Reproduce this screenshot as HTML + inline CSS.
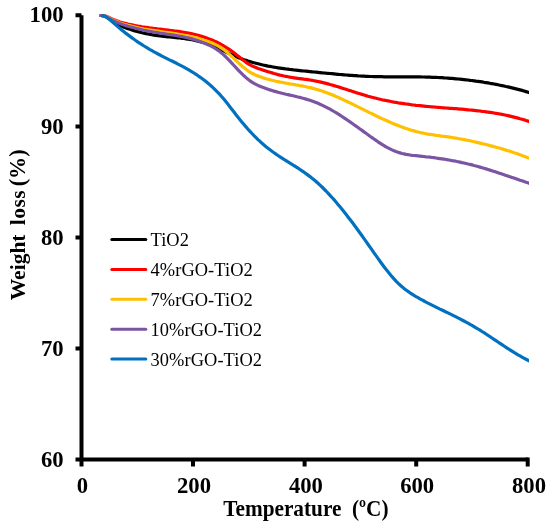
<!DOCTYPE html>
<html><head><meta charset="utf-8"><title>TGA weight loss</title>
<style>
html,body{margin:0;padding:0;background:#fff;}
body{width:550px;height:528px;overflow:hidden;}
svg{display:block;}
text{font-family:"Liberation Serif",serif;fill:#000;}
.b{font-weight:bold;font-size:21.3px;}
.t{font-weight:bold;font-size:22.7px;}
.lg{font-size:18.4px;letter-spacing:0.08px;}
</style></head><body>
<svg width="550" height="528" viewBox="0 0 550 528">
<rect width="550" height="528" fill="#fff"/>
<defs><clipPath id="c"><rect x="90" y="5" width="438.9" height="450"/></clipPath></defs>
<g clip-path="url(#c)" fill="none" stroke-width="3.2" stroke-linecap="round" stroke-linejoin="round">
<path d="M101.0,15.5 L101.5,15.5 L102.0,15.6 L102.5,15.6 L103.0,15.7 L103.5,15.8 L104.0,15.9 L104.5,16.0 L105.0,16.2 L105.5,16.4 L106.0,16.7 L106.5,17.0 L107.0,17.2 L107.5,17.5 L108.0,17.9 L108.5,18.2 L109.0,18.6 L109.5,18.9 L110.0,19.3 L110.5,19.6 L111.0,20.0 L111.5,20.3 L112.0,20.7 L114.0,22.0 L116.0,23.3 L118.0,24.4 L120.0,25.4 L122.0,26.3 L124.0,27.2 L126.0,27.9 L128.0,28.7 L130.0,29.3 L132.0,30.0 L134.0,30.6 L136.0,31.2 L138.0,31.7 L140.0,32.2 L142.0,32.7 L144.0,33.2 L146.0,33.6 L148.0,34.0 L150.0,34.4 L152.0,34.7 L154.0,35.1 L156.0,35.4 L158.0,35.6 L160.0,35.9 L162.0,36.1 L164.0,36.4 L166.0,36.6 L168.0,36.8 L170.0,37.0 L172.0,37.2 L174.0,37.4 L176.0,37.6 L178.0,37.8 L180.0,38.0 L182.0,38.3 L184.0,38.5 L186.0,38.8 L188.0,39.1 L190.0,39.4 L192.0,39.8 L194.0,40.2 L196.0,40.6 L198.0,41.1 L200.0,41.6 L202.0,42.1 L204.0,42.7 L206.0,43.4 L208.0,44.1 L210.0,44.8 L212.0,45.6 L214.0,46.5 L216.0,47.3 L218.0,48.3 L220.0,49.2 L222.0,50.1 L224.0,51.1 L226.0,52.0 L228.0,53.0 L230.0,53.9 L232.0,54.8 L234.0,55.7 L236.0,56.6 L238.0,57.4 L240.0,58.2 L242.0,58.9 L244.0,59.7 L246.0,60.3 L248.0,61.0 L250.0,61.6 L252.0,62.2 L254.0,62.8 L256.0,63.3 L258.0,63.8 L260.0,64.3 L262.0,64.8 L264.0,65.2 L266.0,65.6 L268.0,66.1 L270.0,66.4 L272.0,66.8 L274.0,67.2 L276.0,67.5 L278.0,67.8 L280.0,68.1 L282.0,68.4 L284.0,68.7 L286.0,69.0 L288.0,69.2 L290.0,69.5 L292.0,69.7 L294.0,70.0 L296.0,70.2 L298.0,70.4 L300.0,70.6 L302.0,70.8 L304.0,71.0 L306.0,71.2 L308.0,71.4 L310.0,71.6 L312.0,71.8 L314.0,72.0 L316.0,72.2 L318.0,72.4 L320.0,72.6 L322.0,72.8 L324.0,73.0 L326.0,73.2 L328.0,73.3 L330.0,73.5 L332.0,73.7 L334.0,73.9 L336.0,74.1 L338.0,74.3 L340.0,74.5 L342.0,74.6 L344.0,74.8 L346.0,75.0 L348.0,75.1 L350.0,75.3 L352.0,75.4 L354.0,75.6 L356.0,75.7 L358.0,75.9 L360.0,76.0 L362.0,76.1 L364.0,76.2 L366.0,76.3 L368.0,76.4 L370.0,76.5 L372.0,76.5 L374.0,76.6 L376.0,76.6 L378.0,76.7 L380.0,76.7 L382.0,76.7 L384.0,76.8 L386.0,76.8 L388.0,76.8 L390.0,76.8 L392.0,76.8 L394.0,76.8 L396.0,76.8 L398.0,76.8 L400.0,76.8 L402.0,76.8 L404.0,76.8 L406.0,76.8 L408.0,76.8 L410.0,76.8 L412.0,76.8 L414.0,76.9 L416.0,76.9 L418.0,76.9 L420.0,76.9 L422.0,77.0 L424.0,77.0 L426.0,77.1 L428.0,77.1 L430.0,77.2 L432.0,77.3 L434.0,77.3 L436.0,77.4 L438.0,77.5 L440.0,77.6 L442.0,77.7 L444.0,77.9 L446.0,78.0 L448.0,78.1 L450.0,78.3 L452.0,78.4 L454.0,78.6 L456.0,78.8 L458.0,79.0 L460.0,79.2 L462.0,79.4 L464.0,79.6 L466.0,79.8 L468.0,80.0 L470.0,80.3 L472.0,80.5 L474.0,80.8 L476.0,81.1 L478.0,81.3 L480.0,81.6 L482.0,81.9 L484.0,82.3 L486.0,82.6 L488.0,82.9 L490.0,83.3 L492.0,83.6 L494.0,84.0 L496.0,84.4 L498.0,84.8 L500.0,85.2 L502.0,85.6 L504.0,86.0 L506.0,86.5 L508.0,86.9 L510.0,87.4 L512.0,87.9 L514.0,88.4 L516.0,88.9 L518.0,89.4 L520.0,89.9 L522.0,90.4 L524.0,91.0 L526.0,91.6 L528.0,92.2 L529.0,92.5 L533.0,93.6" stroke="#000000"/>
<path d="M100.5,15.5 L101.0,15.5 L101.5,15.5 L102.0,15.6 L102.5,15.6 L103.0,15.7 L103.5,15.7 L104.0,15.8 L104.5,15.9 L105.0,16.0 L105.5,16.1 L106.0,16.3 L106.5,16.5 L107.0,16.6 L107.5,16.8 L108.0,17.0 L108.5,17.2 L109.0,17.5 L109.5,17.7 L110.0,17.9 L110.5,18.2 L111.0,18.4 L111.5,18.7 L112.0,18.9 L114.0,19.8 L116.0,20.6 L118.0,21.3 L120.0,22.0 L122.0,22.6 L124.0,23.1 L126.0,23.6 L128.0,24.1 L130.0,24.5 L132.0,24.9 L134.0,25.3 L136.0,25.7 L138.0,26.1 L140.0,26.4 L142.0,26.8 L144.0,27.1 L146.0,27.4 L148.0,27.7 L150.0,28.0 L152.0,28.2 L154.0,28.5 L156.0,28.7 L158.0,29.0 L160.0,29.2 L162.0,29.4 L164.0,29.7 L166.0,29.9 L168.0,30.1 L170.0,30.4 L172.0,30.6 L174.0,30.9 L176.0,31.1 L178.0,31.4 L180.0,31.7 L182.0,32.0 L184.0,32.3 L186.0,32.7 L188.0,33.0 L190.0,33.4 L192.0,33.8 L194.0,34.3 L196.0,34.8 L198.0,35.3 L200.0,35.9 L202.0,36.4 L204.0,37.1 L206.0,37.7 L208.0,38.5 L210.0,39.2 L212.0,40.0 L214.0,40.9 L216.0,41.8 L218.0,42.8 L220.0,43.8 L222.0,44.9 L224.0,46.1 L226.0,47.3 L228.0,48.6 L230.0,49.9 L232.0,51.3 L234.0,52.8 L236.0,54.4 L238.0,56.0 L240.0,57.6 L242.0,59.3 L244.0,60.8 L246.0,62.3 L248.0,63.6 L250.0,64.8 L252.0,65.9 L254.0,66.8 L256.0,67.6 L258.0,68.4 L260.0,69.1 L262.0,69.8 L264.0,70.4 L266.0,71.1 L268.0,71.7 L270.0,72.3 L272.0,72.9 L274.0,73.5 L276.0,74.0 L278.0,74.6 L280.0,75.1 L282.0,75.5 L284.0,76.0 L286.0,76.4 L288.0,76.8 L290.0,77.2 L292.0,77.5 L294.0,77.8 L296.0,78.1 L298.0,78.4 L300.0,78.6 L302.0,78.9 L304.0,79.2 L306.0,79.4 L308.0,79.7 L310.0,80.0 L312.0,80.3 L314.0,80.7 L316.0,81.1 L318.0,81.5 L320.0,81.9 L322.0,82.4 L324.0,82.9 L326.0,83.4 L328.0,83.9 L330.0,84.5 L332.0,85.0 L334.0,85.6 L336.0,86.2 L338.0,86.8 L340.0,87.4 L342.0,88.1 L344.0,88.7 L346.0,89.3 L348.0,90.0 L350.0,90.6 L352.0,91.3 L354.0,91.9 L356.0,92.6 L358.0,93.2 L360.0,93.8 L362.0,94.4 L364.0,95.0 L366.0,95.6 L368.0,96.2 L370.0,96.7 L372.0,97.3 L374.0,97.8 L376.0,98.3 L378.0,98.8 L380.0,99.2 L382.0,99.7 L384.0,100.1 L386.0,100.5 L388.0,100.9 L390.0,101.3 L392.0,101.7 L394.0,102.1 L396.0,102.4 L398.0,102.8 L400.0,103.1 L402.0,103.4 L404.0,103.7 L406.0,104.0 L408.0,104.2 L410.0,104.5 L412.0,104.8 L414.0,105.0 L416.0,105.3 L418.0,105.5 L420.0,105.7 L422.0,105.9 L424.0,106.1 L426.0,106.3 L428.0,106.5 L430.0,106.7 L432.0,106.8 L434.0,107.0 L436.0,107.2 L438.0,107.3 L440.0,107.5 L442.0,107.7 L444.0,107.8 L446.0,108.0 L448.0,108.1 L450.0,108.3 L452.0,108.4 L454.0,108.6 L456.0,108.7 L458.0,108.9 L460.0,109.1 L462.0,109.2 L464.0,109.4 L466.0,109.6 L468.0,109.8 L470.0,110.0 L472.0,110.2 L474.0,110.4 L476.0,110.6 L478.0,110.8 L480.0,111.0 L482.0,111.3 L484.0,111.5 L486.0,111.8 L488.0,112.1 L490.0,112.4 L492.0,112.7 L494.0,113.0 L496.0,113.3 L498.0,113.7 L500.0,114.0 L502.0,114.4 L504.0,114.8 L506.0,115.2 L508.0,115.6 L510.0,116.1 L512.0,116.6 L514.0,117.1 L516.0,117.6 L518.0,118.1 L520.0,118.7 L522.0,119.2 L524.0,119.8 L526.0,120.5 L528.0,121.1 L529.0,121.5 L533.0,122.8" stroke="#FF0000"/>
<path d="M101.0,15.5 L101.5,15.5 L102.0,15.6 L102.5,15.6 L103.0,15.7 L103.5,15.8 L104.0,15.9 L104.5,16.0 L105.0,16.2 L105.5,16.3 L106.0,16.5 L106.5,16.7 L107.0,16.9 L107.5,17.2 L108.0,17.4 L108.5,17.6 L109.0,17.9 L109.5,18.1 L110.0,18.4 L110.5,18.7 L111.0,18.9 L111.5,19.2 L112.0,19.4 L114.0,20.4 L116.0,21.3 L118.0,22.1 L120.0,22.9 L122.0,23.6 L124.0,24.2 L126.0,24.8 L128.0,25.4 L130.0,25.9 L132.0,26.4 L134.0,26.9 L136.0,27.4 L138.0,27.8 L140.0,28.2 L142.0,28.6 L144.0,29.0 L146.0,29.3 L148.0,29.7 L150.0,30.0 L152.0,30.3 L154.0,30.6 L156.0,30.9 L158.0,31.2 L160.0,31.5 L162.0,31.8 L164.0,32.1 L166.0,32.3 L168.0,32.6 L170.0,32.9 L172.0,33.2 L174.0,33.5 L176.0,33.8 L178.0,34.2 L180.0,34.5 L182.0,34.9 L184.0,35.2 L186.0,35.6 L188.0,36.0 L190.0,36.4 L192.0,36.9 L194.0,37.4 L196.0,37.9 L198.0,38.4 L200.0,39.0 L202.0,39.5 L204.0,40.2 L206.0,40.8 L208.0,41.5 L210.0,42.3 L212.0,43.1 L214.0,43.9 L216.0,44.9 L218.0,45.9 L220.0,47.1 L222.0,48.4 L224.0,49.8 L226.0,51.4 L228.0,53.1 L230.0,54.9 L232.0,56.7 L234.0,58.6 L236.0,60.5 L238.0,62.4 L240.0,64.2 L242.0,66.0 L244.0,67.7 L246.0,69.3 L248.0,70.8 L250.0,72.1 L252.0,73.3 L254.0,74.3 L256.0,75.2 L258.0,76.0 L260.0,76.8 L262.0,77.4 L264.0,78.1 L266.0,78.7 L268.0,79.2 L270.0,79.8 L272.0,80.3 L274.0,80.7 L276.0,81.2 L278.0,81.6 L280.0,82.0 L282.0,82.4 L284.0,82.8 L286.0,83.2 L288.0,83.5 L290.0,83.9 L292.0,84.2 L294.0,84.5 L296.0,84.9 L298.0,85.2 L300.0,85.6 L302.0,85.9 L304.0,86.3 L306.0,86.7 L308.0,87.2 L310.0,87.6 L312.0,88.1 L314.0,88.6 L316.0,89.2 L318.0,89.7 L320.0,90.4 L322.0,91.0 L324.0,91.7 L326.0,92.4 L328.0,93.2 L330.0,94.0 L332.0,94.8 L334.0,95.6 L336.0,96.5 L338.0,97.3 L340.0,98.2 L342.0,99.1 L344.0,100.1 L346.0,101.0 L348.0,102.0 L350.0,102.9 L352.0,103.9 L354.0,104.9 L356.0,105.9 L358.0,106.9 L360.0,107.9 L362.0,108.9 L364.0,109.9 L366.0,110.9 L368.0,111.9 L370.0,112.9 L372.0,113.8 L374.0,114.8 L376.0,115.8 L378.0,116.7 L380.0,117.7 L382.0,118.6 L384.0,119.5 L386.0,120.4 L388.0,121.3 L390.0,122.2 L392.0,123.1 L394.0,123.9 L396.0,124.7 L398.0,125.5 L400.0,126.3 L402.0,127.0 L404.0,127.7 L406.0,128.4 L408.0,129.1 L410.0,129.7 L412.0,130.4 L414.0,130.9 L416.0,131.5 L418.0,132.0 L420.0,132.5 L422.0,132.9 L424.0,133.3 L426.0,133.7 L428.0,134.1 L430.0,134.4 L432.0,134.7 L434.0,135.0 L436.0,135.3 L438.0,135.5 L440.0,135.8 L442.0,136.1 L444.0,136.3 L446.0,136.6 L448.0,136.9 L450.0,137.2 L452.0,137.5 L454.0,137.8 L456.0,138.1 L458.0,138.5 L460.0,138.8 L462.0,139.2 L464.0,139.6 L466.0,140.0 L468.0,140.4 L470.0,140.8 L472.0,141.3 L474.0,141.7 L476.0,142.1 L478.0,142.6 L480.0,143.1 L482.0,143.6 L484.0,144.0 L486.0,144.5 L488.0,145.0 L490.0,145.6 L492.0,146.1 L494.0,146.6 L496.0,147.2 L498.0,147.7 L500.0,148.3 L502.0,148.9 L504.0,149.5 L506.0,150.1 L508.0,150.7 L510.0,151.3 L512.0,152.0 L514.0,152.7 L516.0,153.3 L518.0,154.0 L520.0,154.7 L522.0,155.5 L524.0,156.2 L526.0,157.0 L528.0,157.7 L529.0,158.1 L533.0,159.7" stroke="#FFC000"/>
<path d="M101.0,15.5 L101.5,15.5 L102.0,15.6 L102.5,15.7 L103.0,15.8 L103.5,15.9 L104.0,16.0 L104.5,16.1 L105.0,16.3 L105.5,16.5 L106.0,16.8 L106.5,17.0 L107.0,17.2 L107.5,17.5 L108.0,17.8 L108.5,18.0 L109.0,18.3 L109.5,18.6 L110.0,18.9 L110.5,19.1 L111.0,19.4 L111.5,19.7 L112.0,19.9 L114.0,21.0 L116.0,21.9 L118.0,22.8 L120.0,23.6 L122.0,24.3 L124.0,25.0 L126.0,25.6 L128.0,26.2 L130.0,26.8 L132.0,27.3 L134.0,27.8 L136.0,28.4 L138.0,28.8 L140.0,29.3 L142.0,29.7 L144.0,30.2 L146.0,30.6 L148.0,31.0 L150.0,31.4 L152.0,31.7 L154.0,32.1 L156.0,32.4 L158.0,32.7 L160.0,33.1 L162.0,33.4 L164.0,33.7 L166.0,34.0 L168.0,34.3 L170.0,34.6 L172.0,34.9 L174.0,35.2 L176.0,35.5 L178.0,35.9 L180.0,36.2 L182.0,36.6 L184.0,37.0 L186.0,37.5 L188.0,37.9 L190.0,38.4 L192.0,38.9 L194.0,39.5 L196.0,40.1 L198.0,40.7 L200.0,41.4 L202.0,42.2 L204.0,42.9 L206.0,43.8 L208.0,44.7 L210.0,45.6 L212.0,46.6 L214.0,47.7 L216.0,49.0 L218.0,50.3 L220.0,51.8 L222.0,53.4 L224.0,55.1 L226.0,57.1 L228.0,59.1 L230.0,61.2 L232.0,63.3 L234.0,65.5 L236.0,67.7 L238.0,69.8 L240.0,71.9 L242.0,73.9 L244.0,75.8 L246.0,77.6 L248.0,79.3 L250.0,80.8 L252.0,82.1 L254.0,83.3 L256.0,84.4 L258.0,85.4 L260.0,86.2 L262.0,87.1 L264.0,87.8 L266.0,88.5 L268.0,89.2 L270.0,89.9 L272.0,90.5 L274.0,91.1 L276.0,91.6 L278.0,92.2 L280.0,92.7 L282.0,93.2 L284.0,93.7 L286.0,94.2 L288.0,94.6 L290.0,95.1 L292.0,95.5 L294.0,96.0 L296.0,96.5 L298.0,97.0 L300.0,97.4 L302.0,98.0 L304.0,98.5 L306.0,99.1 L308.0,99.7 L310.0,100.3 L312.0,101.0 L314.0,101.7 L316.0,102.5 L318.0,103.3 L320.0,104.2 L322.0,105.1 L324.0,106.1 L326.0,107.1 L328.0,108.1 L330.0,109.2 L332.0,110.3 L334.0,111.5 L336.0,112.7 L338.0,113.9 L340.0,115.2 L342.0,116.5 L344.0,117.8 L346.0,119.1 L348.0,120.5 L350.0,121.9 L352.0,123.3 L354.0,124.7 L356.0,126.1 L358.0,127.5 L360.0,129.0 L362.0,130.4 L364.0,131.9 L366.0,133.3 L368.0,134.7 L370.0,136.2 L372.0,137.6 L374.0,139.0 L376.0,140.4 L378.0,141.8 L380.0,143.1 L382.0,144.4 L384.0,145.6 L386.0,146.8 L388.0,147.9 L390.0,148.9 L392.0,149.9 L394.0,150.8 L396.0,151.6 L398.0,152.3 L400.0,152.9 L402.0,153.5 L404.0,153.9 L406.0,154.4 L408.0,154.7 L410.0,155.0 L412.0,155.3 L414.0,155.5 L416.0,155.7 L418.0,155.9 L420.0,156.1 L422.0,156.3 L424.0,156.5 L426.0,156.8 L428.0,157.0 L430.0,157.2 L432.0,157.5 L434.0,157.7 L436.0,158.0 L438.0,158.3 L440.0,158.6 L442.0,158.9 L444.0,159.2 L446.0,159.5 L448.0,159.8 L450.0,160.2 L452.0,160.6 L454.0,160.9 L456.0,161.3 L458.0,161.7 L460.0,162.1 L462.0,162.6 L464.0,163.0 L466.0,163.5 L468.0,164.0 L470.0,164.4 L472.0,164.9 L474.0,165.5 L476.0,166.0 L478.0,166.5 L480.0,167.1 L482.0,167.7 L484.0,168.3 L486.0,168.9 L488.0,169.5 L490.0,170.1 L492.0,170.7 L494.0,171.4 L496.0,172.0 L498.0,172.7 L500.0,173.4 L502.0,174.0 L504.0,174.7 L506.0,175.4 L508.0,176.1 L510.0,176.7 L512.0,177.4 L514.0,178.1 L516.0,178.8 L518.0,179.5 L520.0,180.2 L522.0,180.8 L524.0,181.5 L526.0,182.2 L528.0,182.8 L529.0,183.2 L533.0,184.5" stroke="#7B55A3"/>
<path d="M102.5,15.6 L103.0,15.7 L103.5,15.9 L104.0,16.1 L104.5,16.3 L105.0,16.5 L105.5,16.7 L106.0,17.0 L106.5,17.3 L107.0,17.6 L107.5,17.9 L108.0,18.3 L108.5,18.7 L109.0,19.1 L109.5,19.5 L110.0,19.9 L110.5,20.3 L111.0,20.7 L111.5,21.2 L112.0,21.6 L114.0,23.3 L116.0,25.1 L118.0,26.8 L120.0,28.5 L122.0,30.2 L124.0,31.8 L126.0,33.4 L128.0,34.9 L130.0,36.4 L132.0,37.9 L134.0,39.3 L136.0,40.7 L138.0,42.1 L140.0,43.4 L142.0,44.7 L144.0,46.0 L146.0,47.2 L148.0,48.4 L150.0,49.6 L152.0,50.7 L154.0,51.8 L156.0,52.9 L158.0,54.0 L160.0,55.0 L162.0,56.1 L164.0,57.1 L166.0,58.1 L168.0,59.1 L170.0,60.1 L172.0,61.0 L174.0,62.0 L176.0,63.0 L178.0,64.1 L180.0,65.1 L182.0,66.1 L184.0,67.2 L186.0,68.3 L188.0,69.4 L190.0,70.6 L192.0,71.8 L194.0,73.0 L196.0,74.3 L198.0,75.7 L200.0,77.1 L202.0,78.5 L204.0,80.0 L206.0,81.6 L208.0,83.2 L210.0,84.9 L212.0,86.7 L214.0,88.6 L216.0,90.6 L218.0,92.6 L220.0,94.7 L222.0,97.0 L224.0,99.3 L226.0,101.8 L228.0,104.3 L230.0,106.9 L232.0,109.5 L234.0,112.1 L236.0,114.7 L238.0,117.2 L240.0,119.7 L242.0,122.2 L244.0,124.6 L246.0,126.9 L248.0,129.2 L250.0,131.4 L252.0,133.5 L254.0,135.6 L256.0,137.6 L258.0,139.6 L260.0,141.4 L262.0,143.3 L264.0,145.0 L266.0,146.7 L268.0,148.3 L270.0,149.8 L272.0,151.3 L274.0,152.7 L276.0,154.1 L278.0,155.5 L280.0,156.8 L282.0,158.1 L284.0,159.4 L286.0,160.6 L288.0,161.9 L290.0,163.1 L292.0,164.4 L294.0,165.6 L296.0,166.9 L298.0,168.2 L300.0,169.5 L302.0,170.9 L304.0,172.2 L306.0,173.6 L308.0,175.1 L310.0,176.6 L312.0,178.2 L314.0,179.8 L316.0,181.5 L318.0,183.3 L320.0,185.1 L322.0,187.0 L324.0,189.0 L326.0,191.0 L328.0,193.1 L330.0,195.3 L332.0,197.5 L334.0,199.7 L336.0,202.0 L338.0,204.4 L340.0,206.8 L342.0,209.3 L344.0,211.8 L346.0,214.3 L348.0,216.9 L350.0,219.5 L352.0,222.1 L354.0,224.8 L356.0,227.5 L358.0,230.2 L360.0,233.0 L362.0,235.8 L364.0,238.6 L366.0,241.4 L368.0,244.2 L370.0,247.1 L372.0,249.9 L374.0,252.8 L376.0,255.6 L378.0,258.4 L380.0,261.2 L382.0,264.0 L384.0,266.7 L386.0,269.3 L388.0,271.8 L390.0,274.3 L392.0,276.7 L394.0,278.9 L396.0,281.1 L398.0,283.1 L400.0,285.0 L402.0,286.7 L404.0,288.4 L406.0,290.0 L408.0,291.4 L410.0,292.8 L412.0,294.1 L414.0,295.4 L416.0,296.6 L418.0,297.7 L420.0,298.9 L422.0,299.9 L424.0,301.0 L426.0,302.1 L428.0,303.1 L430.0,304.1 L432.0,305.1 L434.0,306.1 L436.0,307.1 L438.0,308.1 L440.0,309.1 L442.0,310.0 L444.0,311.0 L446.0,312.0 L448.0,312.9 L450.0,313.9 L452.0,314.9 L454.0,315.9 L456.0,316.9 L458.0,317.9 L460.0,318.9 L462.0,320.0 L464.0,321.0 L466.0,322.1 L468.0,323.2 L470.0,324.3 L472.0,325.4 L474.0,326.6 L476.0,327.8 L478.0,329.0 L480.0,330.2 L482.0,331.5 L484.0,332.7 L486.0,334.0 L488.0,335.3 L490.0,336.7 L492.0,338.0 L494.0,339.3 L496.0,340.6 L498.0,342.0 L500.0,343.3 L502.0,344.6 L504.0,346.0 L506.0,347.3 L508.0,348.6 L510.0,349.8 L512.0,351.1 L514.0,352.4 L516.0,353.6 L518.0,354.8 L520.0,355.9 L522.0,357.1 L524.0,358.2 L526.0,359.2 L528.0,360.2 L529.0,360.7 L533.0,362.7" stroke="#0070C0"/>
</g>
<!-- axes -->
<g stroke="#000" stroke-width="4" fill="none" stroke-linecap="butt">
<path d="M81.5,15.3 V466.4"/>
<path d="M75.5,459.5 H527.7"/>
<path d="M75.5,15.3 H81.5 M75.5,126.4 H81.5 M75.5,237.4 H81.5 M75.5,348.5 H81.5"/>
<path d="M193,459.5 V466.4 M304.6,459.5 V466.4 M416.2,459.5 V466.4 M527.7,457.5 V466.4"/>
</g>
<!-- y tick labels -->
<g class="t" text-anchor="end">
<text x="63.6" y="22.4">100</text>
<text x="63.6" y="133.5">90</text>
<text x="63.6" y="244.5">80</text>
<text x="63.6" y="355.6">70</text>
<text x="63.6" y="466.8">60</text>
</g>
<g class="t" text-anchor="middle">
<text x="82.3" y="493.3">0</text>
<text x="194" y="493.3">200</text>
<text x="305.9" y="493.3">400</text>
<text x="417.2" y="493.3">600</text>
<text x="529" y="493.3">800</text>
</g>
<text class="b" transform="translate(223.2,515.6) scale(1,1.05)">Temperature</text>
<text class="b" transform="translate(352,515.6) scale(1,1.05)">(ºC)</text>
<g class="b" style="font-size:21.5px" transform="translate(25.4,300.2) rotate(-90)">
<text x="0" y="0">Weight</text>
<text x="74.9" y="0" style="letter-spacing:0.5px">loss</text>
<text x="113.9" y="0" style="font-size:22.2px">(%)</text>
</g>
<!-- legend -->
<g stroke-width="3" fill="none" stroke-linecap="round">
<path d="M111.8,239.5 H145.8" stroke="#000000"/>
<path d="M111.8,269.4 H145.8" stroke="#FF0000"/>
<path d="M111.8,299.3 H145.8" stroke="#FFC000"/>
<path d="M111.8,329.2 H145.8" stroke="#7B55A3"/>
<path d="M111.8,359.1 H145.8" stroke="#0070C0"/>
</g>
<g class="lg">
<text x="150.5" y="246.2">TiO2</text>
<text x="150.5" y="276.1">4%rGO-TiO2</text>
<text x="150.5" y="306">7%rGO-TiO2</text>
<text x="150.5" y="335.9">10%rGO-TiO2</text>
<text x="150.5" y="365.8">30%rGO-TiO2</text>
</g>
</svg>
</body></html>
